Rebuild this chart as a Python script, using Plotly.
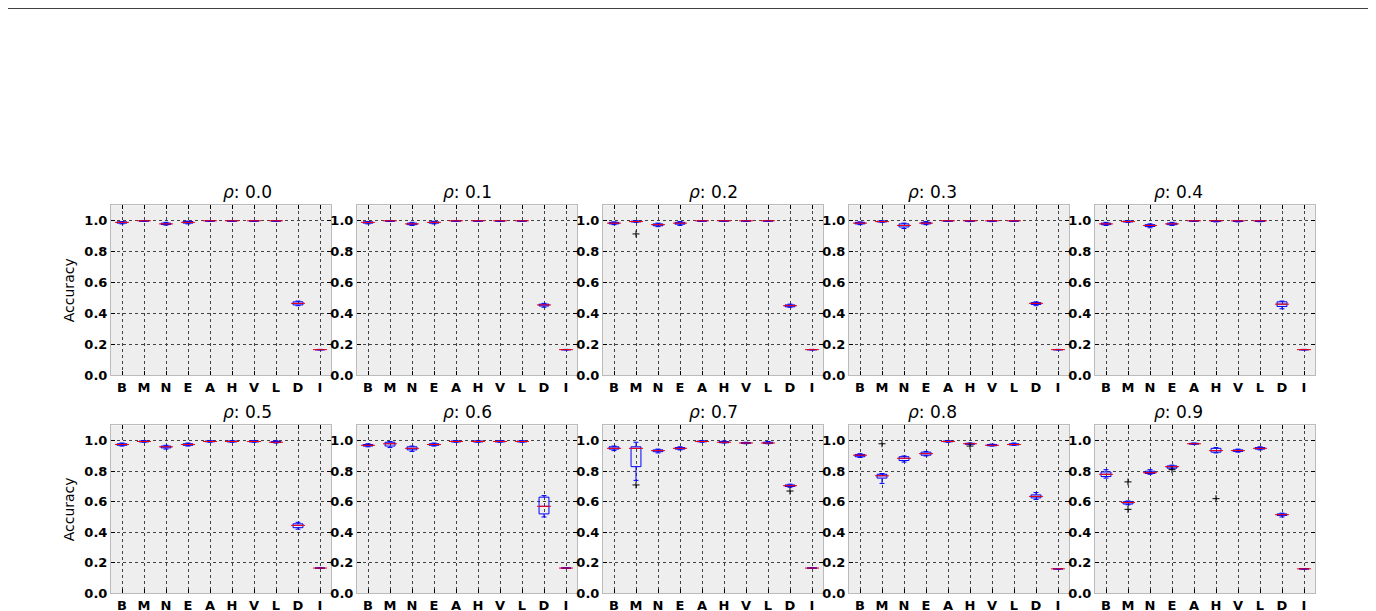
import plotly.graph_objects as go

methods = ["B", "M", "N", "E", "A", "H", "V", "L", "D", "I"]
rhos = ["0.0", "0.1", "0.2", "0.3", "0.4", "0.5", "0.6", "0.7", "0.8", "0.9"]

median = [
    [0.99, 1.0, 0.98, 0.99, 1.0, 1.0, 1.0, 1.0, 0.465, 0.165],
    [0.99, 1.0, 0.98, 0.99, 1.0, 1.0, 1.0, 1.0, 0.455, 0.165],
    [0.985, 0.995, 0.975, 0.985, 1.0, 1.0, 1.0, 1.0, 0.45, 0.165],
    [0.985, 0.995, 0.97, 0.985, 1.0, 1.0, 1.0, 1.0, 0.465, 0.165],
    [0.98, 0.995, 0.97, 0.98, 1.0, 1.0, 1.0, 1.0, 0.46, 0.165],
    [0.975, 0.995, 0.96, 0.975, 0.995, 0.995, 0.995, 0.99, 0.445, 0.165],
    [0.97, 0.98, 0.95, 0.975, 0.995, 0.995, 0.995, 0.995, 0.57, 0.165],
    [0.95, 0.95, 0.935, 0.95, 0.995, 0.99, 0.985, 0.985, 0.705, 0.165],
    [0.905, 0.77, 0.885, 0.915, 0.995, 0.98, 0.97, 0.975, 0.635, 0.16],
    [0.78, 0.595, 0.79, 0.83, 0.98, 0.935, 0.935, 0.95, 0.515, 0.16],
]
q1 = [
    [0.985, 0.998, 0.976, 0.985, 0.998, 0.998, 0.998, 0.998, 0.455, 0.164],
    [0.985, 0.998, 0.975, 0.985, 0.998, 0.998, 0.998, 0.998, 0.448, 0.164],
    [0.98, 0.993, 0.968, 0.978, 0.998, 0.998, 0.998, 0.998, 0.443, 0.164],
    [0.98, 0.993, 0.96, 0.98, 0.998, 0.998, 0.998, 0.998, 0.458, 0.164],
    [0.975, 0.993, 0.963, 0.975, 0.998, 0.996, 0.996, 0.996, 0.445, 0.164],
    [0.97, 0.992, 0.953, 0.97, 0.993, 0.992, 0.992, 0.988, 0.43, 0.164],
    [0.965, 0.965, 0.94, 0.97, 0.992, 0.992, 0.992, 0.992, 0.52, 0.164],
    [0.945, 0.83, 0.928, 0.945, 0.993, 0.987, 0.983, 0.983, 0.7, 0.164],
    [0.895, 0.755, 0.87, 0.905, 0.993, 0.977, 0.967, 0.972, 0.625, 0.159],
    [0.765, 0.585, 0.785, 0.82, 0.978, 0.925, 0.93, 0.945, 0.51, 0.159],
]
q3 = [
    [0.993, 1.0, 0.985, 0.995, 1.0, 1.0, 1.0, 1.0, 0.475, 0.166],
    [0.993, 1.0, 0.985, 0.993, 1.0, 1.0, 1.0, 1.0, 0.46, 0.166],
    [0.99, 0.998, 0.98, 0.99, 1.0, 1.0, 1.0, 1.0, 0.455, 0.166],
    [0.99, 0.998, 0.98, 0.99, 1.0, 1.0, 1.0, 1.0, 0.47, 0.166],
    [0.985, 0.998, 0.975, 0.985, 1.0, 1.0, 1.0, 1.0, 0.475, 0.166],
    [0.98, 0.998, 0.965, 0.98, 0.998, 0.998, 0.998, 0.995, 0.455, 0.166],
    [0.975, 0.99, 0.96, 0.98, 0.998, 0.998, 0.998, 0.998, 0.63, 0.166],
    [0.96, 0.96, 0.94, 0.955, 0.998, 0.995, 0.988, 0.99, 0.71, 0.166],
    [0.91, 0.78, 0.895, 0.925, 0.998, 0.983, 0.975, 0.98, 0.645, 0.161],
    [0.795, 0.6, 0.8, 0.835, 0.983, 0.95, 0.94, 0.955, 0.52, 0.161],
]
lo = [
    [0.98, 0.996, 0.972, 0.98, 0.997, 0.997, 0.996, 0.997, 0.45, 0.163],
    [0.98, 0.996, 0.97, 0.98, 0.997, 0.997, 0.996, 0.997, 0.44, 0.163],
    [0.975, 0.99, 0.962, 0.97, 0.997, 0.997, 0.996, 0.997, 0.44, 0.163],
    [0.975, 0.99, 0.95, 0.975, 0.997, 0.995, 0.995, 0.997, 0.45, 0.163],
    [0.97, 0.99, 0.955, 0.97, 0.997, 0.993, 0.993, 0.994, 0.43, 0.163],
    [0.965, 0.99, 0.945, 0.965, 0.99, 0.99, 0.99, 0.985, 0.42, 0.163],
    [0.96, 0.955, 0.93, 0.965, 0.99, 0.99, 0.99, 0.99, 0.50, 0.163],
    [0.935, 0.74, 0.92, 0.94, 0.99, 0.985, 0.98, 0.98, 0.695, 0.163],
    [0.89, 0.72, 0.86, 0.9, 0.99, 0.975, 0.965, 0.97, 0.615, 0.158],
    [0.755, 0.58, 0.78, 0.815, 0.975, 0.92, 0.925, 0.94, 0.5, 0.158],
]
hi = [
    [0.995, 1.0, 0.99, 0.998, 1.0, 1.0, 1.0, 1.0, 0.48, 0.167],
    [0.995, 1.0, 0.99, 0.997, 1.0, 1.0, 1.0, 1.0, 0.465, 0.167],
    [0.993, 1.0, 0.985, 0.995, 1.0, 1.0, 1.0, 1.0, 0.46, 0.167],
    [0.993, 1.0, 0.985, 0.995, 1.0, 1.0, 1.0, 1.0, 0.475, 0.167],
    [0.99, 1.0, 0.98, 0.99, 1.0, 1.0, 1.0, 1.0, 0.48, 0.167],
    [0.985, 1.0, 0.97, 0.985, 1.0, 1.0, 1.0, 1.0, 0.465, 0.167],
    [0.98, 0.995, 0.965, 0.985, 1.0, 1.0, 1.0, 1.0, 0.64, 0.167],
    [0.965, 0.99, 0.945, 0.96, 1.0, 0.998, 0.99, 0.995, 0.715, 0.167],
    [0.915, 0.785, 0.9, 0.93, 1.0, 0.985, 0.978, 0.985, 0.66, 0.162],
    [0.81, 0.605, 0.81, 0.84, 0.985, 0.955, 0.945, 0.96, 0.525, 0.162],
]
# outliers: (panel index, method, value)
outliers = [
    (2, "M", 0.915), (7, "M", 0.71), (7, "D", 0.67), (8, "M", 0.98),
    (8, "H", 0.965), (9, "M", 0.73), (9, "M", 0.55), (9, "E", 0.81), (9, "H", 0.62),
]

fig = go.Figure()
W, H = 1376, 611
xl = [103, 349, 595, 841, 1087]
pw = 220
rows_px = [(200, 372), (423, 593)]

tf = dict(family="DejaVu Sans", size=13, color="black", weight="bold")
for p in range(10):
    r, c = divmod(p, 5)
    n = p + 1
    sfx = "" if n == 1 else str(n)
    xa, ya = "x" + sfx, "y" + sfx
    fig.add_trace(go.Box(
        x=methods, q1=q1[p], median=median[p], q3=q3[p],
        lowerfence=lo[p], upperfence=hi[p],
        line=dict(color="blue", width=1), fillcolor="rgba(0,0,0,0)",
        whiskerwidth=0.5, width=0.45, boxpoints=False,
        xaxis=xa, yaxis=ya, showlegend=False, hoverinfo="skip"))
    fig.add_trace(go.Scatter(
        x=methods, y=median[p], mode="markers",
        marker=dict(symbol="line-ew", size=10, line=dict(color="red", width=1)),
        xaxis=xa, yaxis=ya, showlegend=False, hoverinfo="skip"))
    ox = [m for (pi, m, v) in outliers if pi == p]
    oy = [v for (pi, m, v) in outliers if pi == p]
    if ox:
        fig.add_trace(go.Scatter(
            x=ox, y=oy, mode="markers",
            marker=dict(symbol="cross-thin", size=5, line=dict(color="black", width=1)),
            xaxis=xa, yaxis=ya, showlegend=False, hoverinfo="skip"))
    x0 = xl[c] / W
    x1 = (xl[c] + pw) / W
    yt, yb = rows_px[r]
    y0 = 1 - yb / H
    y1 = 1 - yt / H
    fig.layout["xaxis" + sfx] = dict(
        domain=[x0, x1], anchor=ya, type="category", categoryorder="array",
        categoryarray=methods, range=[-0.5, 9.5],
        showgrid=True, gridcolor="#444", griddash="dot", gridwidth=1,
        ticks="inside", ticklen=4, tickcolor="black", mirror="ticks",
        showline=True, linecolor="#bbbbbb", ticklabelstandoff=0,
        tickfont=tf)
    fig.layout["yaxis" + sfx] = dict(
        domain=[y0, y1], anchor=xa, range=[0, 1.1],
        tickvals=[0, 0.2, 0.4, 0.6, 0.8, 1.0], tickformat=".1f",
        showgrid=True, gridcolor="#444", griddash="dot", gridwidth=1,
        ticks="inside", ticklen=4, tickcolor="black", mirror="ticks",
        showline=True, linecolor="#bbbbbb", zeroline=False,
        tickfont=tf,
        title=dict(text="Accuracy" if c == 0 else "", standoff=6,
                   font=dict(family="DejaVu Sans", size=14, color="black")))
    fig.add_annotation(
        x=(x0 + x1) / 2, y=y1, xref="paper", yref="paper", yanchor="bottom",
        yshift=1, showarrow=False, text="<i>ρ</i>: " + rhos[p],
        font=dict(family="DejaVu Sans", size=17, color="black"))

fig.update_layout(
    width=W, height=H, margin=dict(l=0, r=0, t=0, b=0),
    paper_bgcolor="white", plot_bgcolor="#eeeeee")
fig.add_shape(type="line", xref="paper", yref="paper", x0=0, x1=1, y0=1, y1=1,
              line=dict(color="black", width=1.5))
fig.write_html("out.html")
